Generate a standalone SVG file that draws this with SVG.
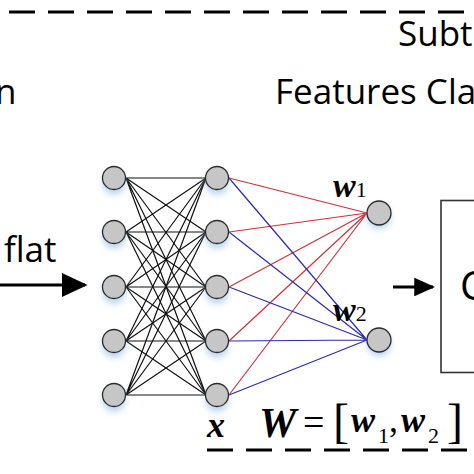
<svg xmlns="http://www.w3.org/2000/svg" width="474" height="474" viewBox="0 0 474 474">
<defs>
<filter id="glow" x="-50%" y="-50%" width="200%" height="220%">
<feGaussianBlur stdDeviation="3"/>
</filter>
<filter id="dglow" x="-5%" y="-100%" width="110%" height="400%">
<feGaussianBlur stdDeviation="2"/>
</filter>
<marker id="ah" viewBox="0 0 10 10" refX="9" refY="5" markerWidth="8" markerHeight="7.5" markerUnits="strokeWidth" orient="auto" preserveAspectRatio="none">
<path d="M0,0 L10,5 L0,10 z" fill="#000"/>
</marker>
<marker id="ah2" viewBox="0 0 10 10" refX="9" refY="5" markerWidth="6.5" markerHeight="5.8" markerUnits="strokeWidth" orient="auto" preserveAspectRatio="none">
<path d="M0,0 L10,5 L0,10 z" fill="#000"/>
</marker>
<style>
.t{font-family:"Open Sans","Noto Sans",sans-serif;fill:#000}
.m{font-family:"Liberation Serif","Times New Roman",serif;fill:#000}
.bi{font-weight:bold;font-style:italic}
.nd{fill:#c6c6c6;stroke:#2a2a2a;stroke-width:1.3}
.sh{fill:#9cc3ea;opacity:0.7}
.bk{stroke:#111;stroke-width:1.2;fill:none}
.rd{stroke:#d0303a;stroke-width:1.2;fill:none}
.bl{stroke:#2a2ab0;stroke-width:1.2;fill:none}
.dash{stroke:#000;stroke-width:3.2;stroke-dasharray:26 13;fill:none}
.dsh{stroke:#b8c8dc;stroke-width:3;stroke-dasharray:26 13;fill:none;opacity:0.6}
</style>
</defs>
<rect width="474" height="474" fill="#fff"/>

<g id="frame">
<line class="dsh" x1="9" y1="18" x2="474" y2="18" filter="url(#dglow)"/>
<line class="dash" x1="9" y1="12" x2="474" y2="12"/>
<line class="dsh" x1="207" y1="456" x2="474" y2="456" filter="url(#dglow)"/>
<line class="dash" x1="207" y1="450" x2="474" y2="450"/>
</g>

<g id="labels">
<text class="t" x="398" y="46" font-size="35">Subt</text>
<text class="t" x="-5" y="104" font-size="35">n</text>
<text class="t" x="275" y="104" font-size="35">Features Cla</text>
<text class="t" x="4" y="262" font-size="35">flat</text>
</g>

<g id="connectors">
<line x1="0" y1="285" x2="85" y2="285" stroke="#000" stroke-width="3.2" marker-end="url(#ah)"/>
<line x1="393" y1="287" x2="433" y2="287" stroke="#000" stroke-width="3.2" marker-end="url(#ah2)"/>
<g class="bk">
<path d="M126,178L206,178M126,178L206,232M126,178L206,287M126,178L206,341M126,178L206,395"/>
<path d="M126,232L206,178M126,232L206,232M126,232L206,287M126,232L206,341M126,232L206,395"/>
<path d="M126,287L206,178M126,287L206,232M126,287L206,287M126,287L206,341M126,287L206,395"/>
<path d="M126,341L206,178M126,341L206,232M126,341L206,287M126,341L206,341M126,341L206,395"/>
<path d="M126,395L206,178M126,395L206,232M126,395L206,287M126,395L206,341M126,395L206,395"/>
</g>
<path class="rd" d="M229,178L367,213M229,232L367,213M229,287L367,213M229,341L367,213M229,395L367,213"/>
<path class="bl" d="M229,178L367,340M229,232L367,340M229,287L367,340M229,341L367,340M229,395L367,340"/>
</g>

<g id="input-layer">
<g filter="url(#glow)">
<circle class="sh" cx="114" cy="183" r="11.5"/><circle class="sh" cx="114" cy="237" r="11.5"/><circle class="sh" cx="114" cy="292" r="11.5"/><circle class="sh" cx="114" cy="346" r="11.5"/><circle class="sh" cx="114" cy="400" r="11.5"/>
</g>
<circle class="nd" cx="114" cy="178" r="11.5"/>
<circle class="nd" cx="114" cy="232" r="11.5"/>
<circle class="nd" cx="114" cy="287" r="11.5"/>
<circle class="nd" cx="114" cy="341" r="11.5"/>
<circle class="nd" cx="114" cy="395" r="11.5"/>
</g>

<g id="feature-layer">
<g filter="url(#glow)">
<circle class="sh" cx="217" cy="183" r="11.5"/><circle class="sh" cx="217" cy="237" r="11.5"/><circle class="sh" cx="217" cy="292" r="11.5"/><circle class="sh" cx="217" cy="346" r="11.5"/><circle class="sh" cx="217" cy="400" r="11.5"/>
</g>
<circle class="nd" cx="217" cy="178" r="11.5"/>
<circle class="nd" cx="217" cy="232" r="11.5"/>
<circle class="nd" cx="217" cy="287" r="11.5"/>
<circle class="nd" cx="217" cy="341" r="11.5"/>
<circle class="nd" cx="217" cy="395" r="11.5"/>
<text class="m bi" x="207" y="437" font-size="36">x</text>
</g>

<g id="w1-node">
<circle class="sh" cx="379" cy="217" r="12" filter="url(#glow)"/>
<circle class="nd" cx="379" cy="213" r="12"/>
<text class="m" x="333" y="197"><tspan class="bi" font-size="34">w</tspan><tspan font-size="22">1</tspan></text>
</g>

<g id="w2-node">
<circle class="sh" cx="379" cy="344" r="12" filter="url(#glow)"/>
<circle class="nd" cx="379" cy="340" r="12"/>
<text class="m" x="333" y="321"><tspan class="bi" font-size="34">w</tspan><tspan font-size="22">2</tspan></text>
</g>

<g id="classifier">
<rect x="441" y="200.5" width="40" height="172" fill="none" stroke="#333" stroke-width="1.6"/>
<text class="t" x="460" y="300" font-size="40">C</text>
</g>

<g id="formula">
<text class="m bi" x="259" y="437" font-size="42">W</text>
<text class="m" x="303" y="435" font-size="38">=</text>
<text class="m" x="333" y="437" font-size="48">[</text>
<text class="m bi" x="351" y="432" font-size="36">w</text>
<text class="m" x="378" y="443" font-size="22">1</text>
<text class="m" x="389" y="432" font-size="36">,</text>
<text class="m bi" x="401" y="432" font-size="36">w</text>
<text class="m" x="428" y="443" font-size="22">2</text>
<text class="m" x="447" y="437" font-size="48">]</text>
</g>
</svg>
